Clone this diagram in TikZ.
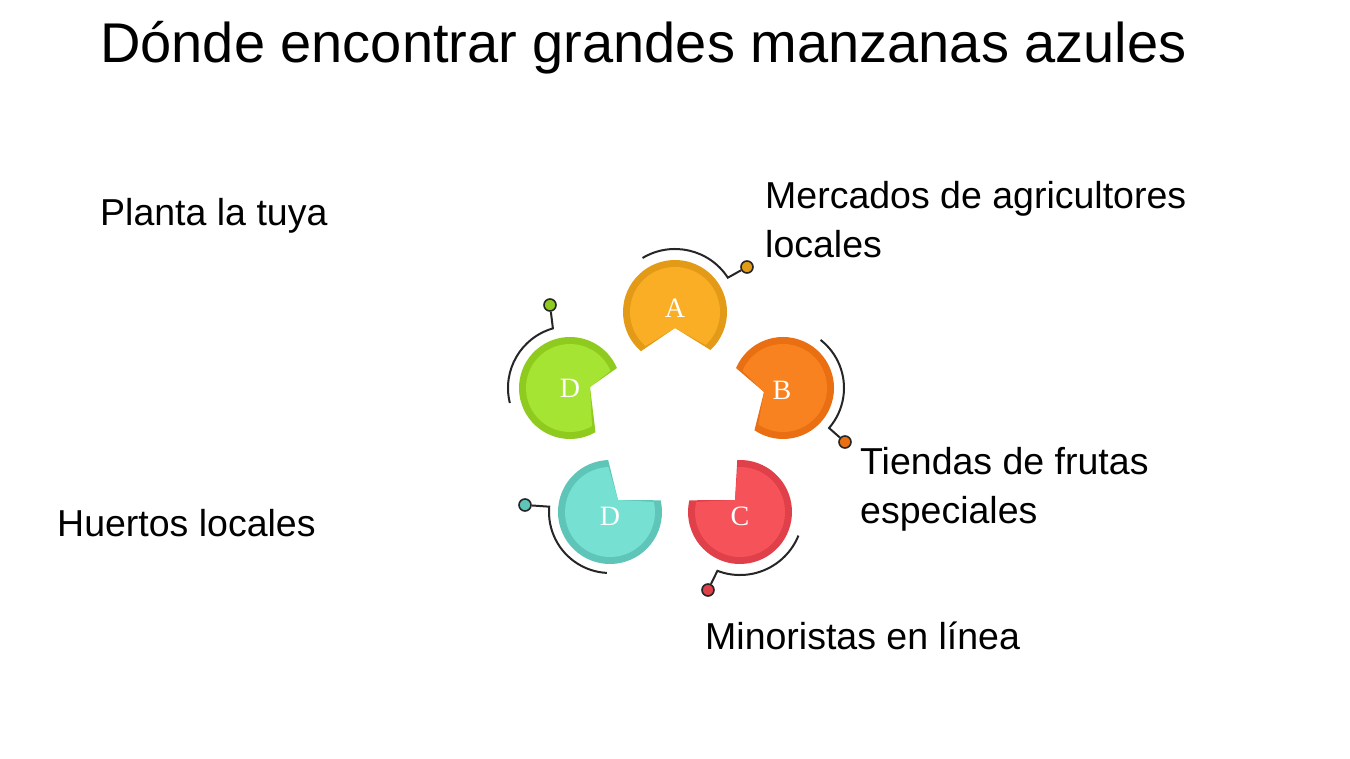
\documentclass[tikz,border=0pt]{standalone}
\usepackage{fontspec}
\setmainfont{Liberation Sans}
\newfontfamily\letfont{Liberation Serif}
\usetikzlibrary{calc}
\newcommand{\mypie}[7]{%
  \fill[#6] ($#1+#5$) -- ($#1+(#3:#2)$) arc[start angle=#3,end angle=#4,radius=#2] -- cycle;
  \fill[#7] ($#1+#5$) -- ($#1+(#3:#2-7)$) arc[start angle=#3,end angle=#4,radius=#2-7] -- cycle;}
\definecolor{aD}{HTML}{E39A17}\definecolor{aL}{HTML}{F9AE25}
\definecolor{bD}{HTML}{E96F12}\definecolor{bL}{HTML}{F8821F}
\definecolor{cD}{HTML}{E0404A}\definecolor{cL}{HTML}{F6525A}
\definecolor{tD}{HTML}{5FC5B8}\definecolor{tL}{HTML}{76E0D2}
\definecolor{gD}{HTML}{8FCB1E}\definecolor{gL}{HTML}{A6E433}
\begin{document}
\begin{tikzpicture}[x=1pt,y=-1pt,
  lbl/.style={anchor=west,align=left,font=\fontsize{37.5}{49}\selectfont,inner sep=0pt},
  let/.style={text=white,font=\fontsize{28}{28}\selectfont\letfont},
  deco/.style={line width=2pt,black!85},
  dotc/.style={circle,draw=black!85,line width=1.6pt,minimum size=12pt,inner sep=0pt}]
\useasboundingbox (0,0) rectangle (1350,759);
\node[anchor=west,inner sep=0pt,font=\fontsize{56}{56}\selectfont] (title) at (100,48) {Dónde encontrar grandes manzanas azules};
\node[lbl] (l1) at (100,216) {Planta la tuya};
\node[lbl] (l2) at (765,220) {Mercados de agricultores\\locales};
\node[lbl] (l3) at (860,489) {Tiendas de frutas\\especiales};
\node[lbl] (l4) at (705,636) {Minoristas en línea};
\node[lbl] (l5) at (57,523) {Huertos locales};
% pies
\mypie{(675,312)}{52}{131}{407}{(0,16)}{aD}{aL}
\mypie{(783,388)}{51}{203}{484}{(-19,4)}{bD}{bL}
\mypie{(740,512)}{52}{267}{553}{(-5,-12)}{cD}{cL}
\mypie{(610,512)}{52}{347}{628}{(8,-12)}{tD}{tL}
\mypie{(570,388)}{51}{60}{337}{(20,-1)}{gD}{gL}
\node[let] (la) at (675,308) {A};
\node[let] (lb) at (782,390) {B};
\node[let] (lc) at (740,516) {C};
\node[let] (ld1) at (610,516) {D};
\node[let] (ld2) at (570,388) {D};
% decorations
\node[dotc,fill=aD,draw=black!85] (da) at (747,267) {};
\node[dotc,fill=bD] (db) at (845,442) {};
\node[dotc,fill=cD] (dc) at (708,590) {};
\node[dotc,fill=tD] (dt) at (525,505) {};
\node[dotc,fill=gD] (dg) at (550,305) {};
\draw[deco] ($(675,312)+(239:63)$) arc[start angle=239,end angle=327,radius=63] -- (da);
\draw[deco] ($(783,388)+(308:61)$) arc[start angle=308,end angle=401,radius=61] -- (db);
\draw[deco] ($(740,512)+(22:63)$) arc[start angle=22,end angle=111,radius=63] -- (dc);
\draw[deco] ($(610,512)+(93:61)$) arc[start angle=93,end angle=185,radius=61] -- (dt);
\draw[deco] ($(570,388)+(166:62)$) arc[start angle=166,end angle=254,radius=62] -- (dg);
\end{tikzpicture}
\end{document}
